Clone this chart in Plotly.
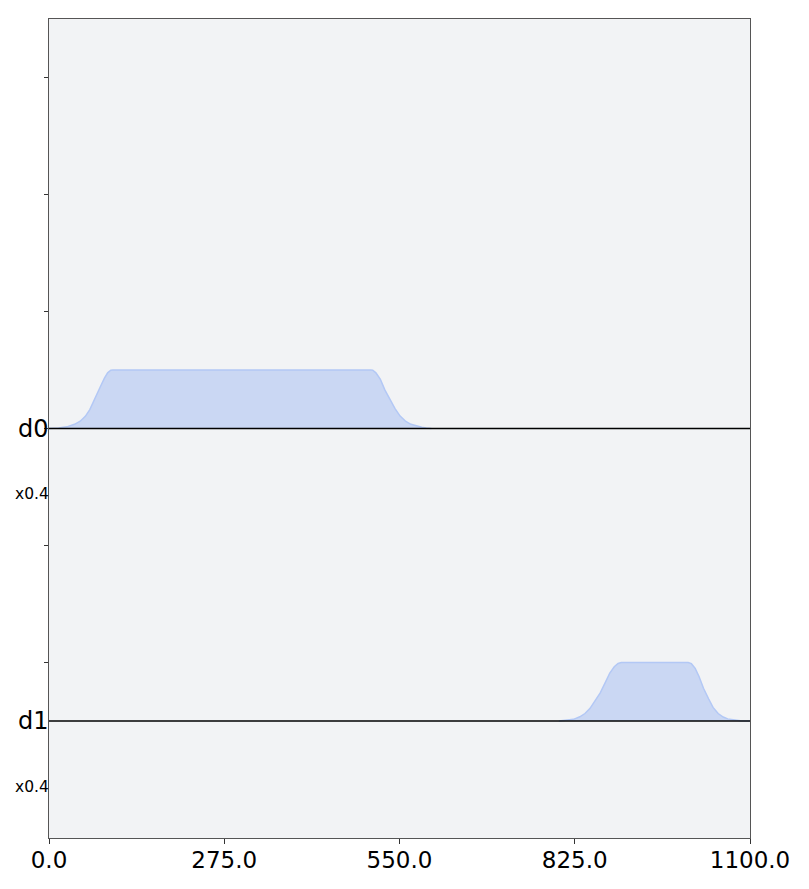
import plotly.graph_objects as go

# pulse envelopes (time in dt, amplitude above baseline)
d0_t = [0, 15, 28, 40, 49, 57, 64, 72, 80, 87, 92, 97, 100,
        505, 508, 513, 520, 527, 535, 543, 551, 560, 568, 577, 585, 592, 600]
d0_amp = [0, 0.002, 0.007, 0.018, 0.031, 0.052, 0.081, 0.125, 0.175, 0.215, 0.238, 0.249, 0.25,
          0.25, 0.249, 0.238, 0.21, 0.165, 0.124, 0.085, 0.053, 0.03, 0.018, 0.01, 0.005, 0.002, 0]
d1_t = [800, 812, 823, 833, 841, 849, 857, 865, 873, 880, 887, 893, 898,
        1003, 1008, 1014, 1020, 1027, 1035, 1042, 1050, 1058, 1065, 1075, 1085, 1100]
d1_amp = [0, 0.002, 0.007, 0.018, 0.032, 0.054, 0.085, 0.12, 0.165, 0.205, 0.232, 0.246, 0.25,
          0.25, 0.245, 0.225, 0.19, 0.14, 0.095, 0.058, 0.032, 0.017, 0.009, 0.004, 0.001, 0]

channels = ['d0', 'd1']
offsets = [0.0, -1.25]
scales = ['x0.4', 'x0.4']
x_ticks = [0.0, 275.0, 550.0, 825.0, 1100.0]
t_end = 1100

fig = go.Figure()
for (t, a, off) in [(d0_t, d0_amp, offsets[0]), (d1_t, d1_amp, offsets[1])]:
    fig.add_trace(go.Scatter(
        x=t, y=[off + v for v in a], mode='lines',
        fill='toself', fillcolor='#cad7f3',
        line=dict(color='#b3c8f5', width=1.5),
        showlegend=False
    ))

# channel baselines
for off in offsets:
    fig.add_trace(go.Scatter(x=[0, t_end], y=[off, off], mode='lines',
                             line=dict(color='#000000', width=1.5), showlegend=False))

# channel names and scaling factors
for (name, off, sc) in zip(channels, offsets, scales):
    fig.add_annotation(x=0, y=off, xref='x', yref='y', text=name, showarrow=False,
                       xanchor='right', yanchor='middle', xshift=2,
                       font=dict(size=24, color='#000000', family='DejaVu Sans'))
    fig.add_annotation(x=0, y=off - 0.28, xref='x', yref='y', text=sc, showarrow=False,
                       xanchor='right', yanchor='middle', xshift=2,
                       font=dict(size=15.5, color='#000000', family='DejaVu Sans'))

fig.update_xaxes(
    range=[0, t_end], tickvals=x_ticks, ticktext=['%.1f' % v for v in x_ticks],
    ticks='outside', ticklen=5, tickcolor='#333', showgrid=False, zeroline=False,
    showline=True, linecolor='#555', linewidth=1.2, mirror=True, ticklabelstandoff=-4,
    tickfont=dict(size=23, color='#000000', family='DejaVu Sans')
)
fig.update_yaxes(
    range=[-1.75, 1.75], tickvals=[1.5, 1.0, 0.5, 0.0, -0.5, -1.0],
    ticktext=['', '', '', '', '', ''], ticks='outside', ticklen=4, tickcolor='#333',
    showgrid=False, zeroline=False, showline=True, linecolor='#555', linewidth=1.2,
    mirror=True
)
fig.update_layout(
    width=801, height=881,
    margin=dict(l=41, r=59, t=11, b=51),
    plot_bgcolor='#f2f3f5', paper_bgcolor='#ffffff',
    font=dict(family='DejaVu Sans')
)
fig.write_html("out.html")
